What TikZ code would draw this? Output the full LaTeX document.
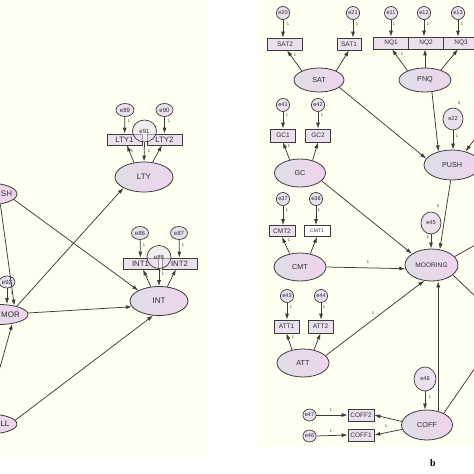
\documentclass[tikz,border=0pt]{standalone}
\usepackage{fontspec}
\setmainfont{Liberation Sans}
\newfontfamily\serifb{Liberation Serif}
\usetikzlibrary{arrows.meta,shapes.geometric}
\definecolor{bgc}{RGB}{255,255,241}
\definecolor{lav}{RGB}{236,224,238}
\definecolor{lavL}{RGB}{224,222,230}
\definecolor{lavR}{RGB}{238,212,238}
\definecolor{edgec}{RGB}{60,60,60}
\definecolor{txt}{RGB}{45,45,45}
\begin{document}
\begin{tikzpicture}[x=1pt,y=-1pt,
 lat/.style={ellipse, draw=edgec, line width=0.8pt, left color=lavL, right color=lavR, inner sep=0pt, font=\fontsize{8}{8}\selectfont, text=txt},
 latr/.style={lat, font=\fontsize{7.2}{7.2}\selectfont},
 obs/.style={rectangle, draw=edgec, line width=0.7pt, fill=lav, inner sep=0pt, font=\fontsize{7.8}{8}\selectfont, text=txt},
 obsr/.style={obs, font=\fontsize{6.5}{6.5}\selectfont},
 err/.style={ellipse, draw=edgec, line width=0.7pt, fill=lav, inner sep=0pt, font=\fontsize{6}{6}\selectfont, text=txt},
 errr/.style={err, font=\fontsize{5.6}{5.6}\selectfont},
 arr/.style={draw=edgec, line width=0.75pt, -{Latex[length=6pt,width=4pt]}},
 ln/.style={draw=edgec, line width=0.75pt},
 one/.style={font=\fontsize{4}{4}\selectfont, text=txt, inner sep=0pt},
]
\useasboundingbox (0,0) rectangle (474,474);
\fill[white] (0,0) rectangle (474,474);
\begin{scope}
\clip (0,0) rectangle (474,474);
\fill[bgc] (0,0) rectangle (207,457);
\fill[bgc] (257,0) rectangle (474,447);

% ---------------- left panel ----------------
\node[lat, minimum width=58, minimum height=22, label={[xshift=18.5pt, font=\fontsize{8}{8}\selectfont, text=txt]center:SH}] (SH) at (-12,194) {};
\node[lat, minimum width=58, minimum height=20, label={[xshift=11.5pt, font=\fontsize{8}{8}\selectfont, text=txt]center:MOR}] (MOR) at (-1,314.5) {};
\node[lat, minimum width=58, minimum height=20, label={[xshift=17pt, font=\fontsize{8}{8}\selectfont, text=txt]center:LL}] (LL) at (-12,424) {};
\node[err, minimum width=16, minimum height=12] (e92) at (7,282) {e92};

\node[lat, minimum width=58, minimum height=30] (LTY) at (144,177) {LTY};
\node[obs, minimum width=35, minimum height=11] (LTY1) at (124.5,139.5) {LTY1};
\node[obs, minimum width=35, minimum height=11] (LTY2) at (164.5,139.5) {LTY2};
\node[err, minimum width=18, minimum height=13] (e89) at (125,110) {e89};
\node[err, minimum width=17, minimum height=13] (e90) at (164.5,110) {e90};
\node[err, minimum width=24, minimum height=22, fill opacity=0.55, text opacity=1] (e91) at (144.5,131) {e91};

\node[lat, minimum width=58, minimum height=29] (INT) at (159,301) {INT};
\node[obs, minimum width=35, minimum height=11] (INT1) at (140.5,263.5) {INT1};
\node[obs, minimum width=35, minimum height=11] (INT2) at (179.5,263.5) {INT2};
\node[err, minimum width=17, minimum height=13] (e86) at (140,233) {e86};
\node[err, minimum width=17, minimum height=13] (e87) at (179,233) {e87};
\node[err, minimum width=24, minimum height=23, fill opacity=0.55, text opacity=1] (e88) at (159,257) {e88};

\coordinate (offM) at (-3,378);

\draw[arr] (e89) -- (LTY1);
\draw[arr] (e90) -- (LTY2);
\draw[arr] (LTY.125) -- (LTY1.south -| 127,0);
\draw[arr] (LTY.60) -- (LTY2.south -| 162,0);
\draw[arr] (e91.south) -- (LTY.north);
\draw[arr] (e86) -- (INT1);
\draw[arr] (e87) -- (INT2);
\draw[arr] (INT.120) -- (INT1.south -| 143,0);
\draw[arr] (INT.60) -- (INT2.south -| 176,0);
\draw[arr] (e88.south) -- (INT.north);
\draw[arr] (e92.south) -- (e92.south |- MOR.north);

\draw[arr] (SH.-12) -- (INT.153);
\draw[arr] (SH.-40) -- (MOR.30);
\draw[arr] (MOR.25) -- (LTY.208);
\draw[arr] (MOR.3) -- (INT.192);
\draw[arr] (LL.8) -- (INT.248);
\draw[arr] (offM) -- (MOR.-35);

\node[one] (o1) at (129,121) {1};
\node[one] (o2) at (169,121) {1};
\node[one] (o3) at (132,151) {1};
\node[one] (o4) at (149,151) {1};
\node[one] (o5) at (144,245) {1};
\node[one] (o6) at (183,245) {1};
\node[one] (o7) at (147,276) {1};
\node[one] (o8) at (163,274) {1};
\node[one] (o9) at (12,293) {1};

% ---------------- right panel ----------------
\node[errr, minimum width=13, minimum height=13] (e20) at (283,13) {e20};
\node[errr, minimum width=13, minimum height=13] (e21) at (353,13) {e21};
\node[errr, minimum width=13, minimum height=13] (e11) at (391,13) {e11};
\node[errr, minimum width=13, minimum height=13] (e12) at (424,13) {e12};
\node[errr, minimum width=13, minimum height=13] (e13) at (458,13) {e13};
\node[obsr, minimum width=35, minimum height=12] (SAT2) at (285,44) {SAT2};
\node[obsr, minimum width=24, minimum height=12] (SAT1) at (349,44) {SAT1};
\node[obsr, minimum width=35, minimum height=12] (NQ1) at (391,43) {NQ1};
\node[obsr, minimum width=35, minimum height=12] (NQ2) at (426,43) {NQ2};
\node[obsr, minimum width=35, minimum height=12] (NQ3) at (461,43) {NQ3};
\node[latr, minimum width=50, minimum height=24] (SAT) at (319,80) {SAT};
\node[latr, minimum width=52, minimum height=24] (PNQ) at (425,80) {PNQ};

\node[errr, minimum width=13, minimum height=13] (e41) at (283,105) {e41};
\node[errr, minimum width=13, minimum height=13] (e42) at (318,105) {e42};
\node[obsr, minimum width=25, minimum height=13] (GC1) at (283,135.5) {GC1};
\node[obsr, minimum width=25, minimum height=13] (GC2) at (318,135.5) {GC2};
\node[latr, minimum width=51, minimum height=28] (GC) at (300,173) {GC};

\node[errr, minimum width=20, minimum height=22] (e22) at (453,119) {e22};
\node[latr, minimum width=56, minimum height=30] (PUSH) at (452,165) {PUSH};

\node[errr, minimum width=13, minimum height=13] (e37) at (283,199) {e37};
\node[errr, minimum width=13, minimum height=13] (e38) at (316,199) {e38};
\node[obsr, minimum width=26, minimum height=11] (CMT2) at (282,231) {CMT2};
\node[obsr, minimum width=26, minimum height=11, fill=white, font=\fontsize{5}{5}\selectfont] (CMT1) at (317,231) {CMT1};
\node[latr, minimum width=52, minimum height=28] (CMT) at (300,267) {CMT};

\node[errr, minimum width=20, minimum height=22] (e45) at (431,223) {e45};
\node[latr, minimum width=53, minimum height=32, font=\fontsize{6.6}{6.6}\selectfont] (MOOR) at (431.5,265) {MOORING};

\node[errr, minimum width=13, minimum height=13] (e43) at (287,296) {e43};
\node[errr, minimum width=13, minimum height=13] (e44) at (321,296) {e44};
\node[obsr, minimum width=25, minimum height=13] (ATT1) at (286.5,326.5) {ATT1};
\node[obsr, minimum width=25, minimum height=13] (ATT2) at (320.5,326.5) {ATT2};
\node[latr, minimum width=52, minimum height=28] (ATT) at (303,363) {ATT};

\node[errr, minimum width=22, minimum height=24] (e48) at (425,379) {e48};
\node[latr, minimum width=51, minimum height=30] (COFF) at (427,425) {COFF};
\node[obsr, minimum width=26, minimum height=12] (COFF2) at (361,415) {COFF2};
\node[obsr, minimum width=26, minimum height=12] (COFF1) at (361,435) {COFF1};
\node[errr, minimum width=13, minimum height=12] (e47) at (309.5,415) {e47};
\node[errr, minimum width=13, minimum height=12] (e46) at (309.5,436) {e46};

\coordinate (offP) at (477,136);
\coordinate (offC) at (477,365);
\coordinate (offR1) at (477,244);
\coordinate (offR2) at (477,298);

\foreach \a/\b in {e20/SAT2,e21/SAT1,e11/NQ1,e12/NQ2,e13/NQ3,e41/GC1,e42/GC2,e37/CMT2,e38/CMT1,e43/ATT1,e44/ATT2}
  \draw[arr] (\a.south) -- (\a.south |- \b.north);
\draw[arr] (SAT.152) -- (SAT2.south -| 287,0);
\draw[arr] (SAT.28) -- (SAT1.south);
\draw[arr] (PNQ.152) -- (NQ1.south -| 392,0);
\draw[arr] (PNQ.north) -- (NQ2.south -| PNQ.north);
\draw[arr] (PNQ.32) -- (NQ3.south -| 458,0);
\draw[arr] (GC.128) -- (GC1.south);
\draw[arr] (GC.45) -- (GC2.south);
\draw[arr] (CMT.128) -- (CMT2.south);
\draw[arr] (CMT.52) -- (CMT1.south);
\draw[arr] (ATT.130) -- (ATT1.south);
\draw[arr] (ATT.50) -- (ATT2.south);

\draw[arr] (SAT.-20) -- (PUSH.166);
\draw[arr] (PNQ.-60) -- (PUSH.135);
\draw[arr] (e22.south) -- (e22.south |- PUSH.north);
\draw[arr] (offP) -- (PUSH.45);
\draw[arr] (PUSH.-95) -- (MOOR.62);
\draw[arr] (e45.south) -- (e45.south |- MOOR.north);
\draw[arr] (GC.-20) -- (MOOR.150);
\draw[arr] (CMT.east) -- (MOOR.188);
\draw[arr] (ATT.18) -- (MOOR.245);
\draw[arr] (COFF.51) -- (COFF.51 |- MOOR.south);
\draw[ln] (COFF.35) -- (offC);
\draw[ln] (MOOR.20) -- (offR1);
\draw[ln] (MOOR.-25) -- (offR2);
\draw[arr] (e48.south) -- (e48.south |- COFF.north);
\draw[arr] (COFF.172) -- (COFF2.east);
\draw[arr] (COFF.190) -- (COFF1.east);
\draw[arr] (e47.east) -- (COFF2.west);
\draw[arr] (e46.east) -- (COFF1.west);

\node[one] (r1) at (288,24) {1};
\node[one] (r2) at (357,24) {1};
\node[one] (r3) at (394,24) {1};
\node[one] (r4) at (428,24) {1};
\node[one] (r5) at (462,24) {1};
\node[one] (r6) at (295,55) {1};
\node[one] (r7) at (402,54) {1};
\node[one] (r8) at (287,115) {1};
\node[one] (r9) at (322,115) {1};
\node[one] (r10) at (289,146) {1};
\node[one] (r11) at (457,136) {1};
\node[one] (r12) at (459,103) {0};
\node[one] (r13) at (287,210) {1};
\node[one] (r14) at (319,210) {1};
\node[one] (r15) at (289,240) {1};
\node[one] (r16) at (368,262) {1};
\node[one] (r17) at (428,237) {1};
\node[one] (r18) at (438,206) {0};
\node[one] (r19) at (291,307) {1};
\node[one] (r20) at (324,307) {1};
\node[one] (r21) at (293,337) {1};
\node[one] (r22) at (373,313) {1};
\node[one] (r23) at (430,397) {1};
\node[one] (r24) at (331,410) {1};
\node[one] (r25) at (331,431) {1};
\node[one] (r26) at (386,426) {1};

\node[font=\serifb\bfseries\fontsize{10}{10}\selectfont, text=black] (blab) at (433,463) {b};
\end{scope}
\end{tikzpicture}
\end{document}
